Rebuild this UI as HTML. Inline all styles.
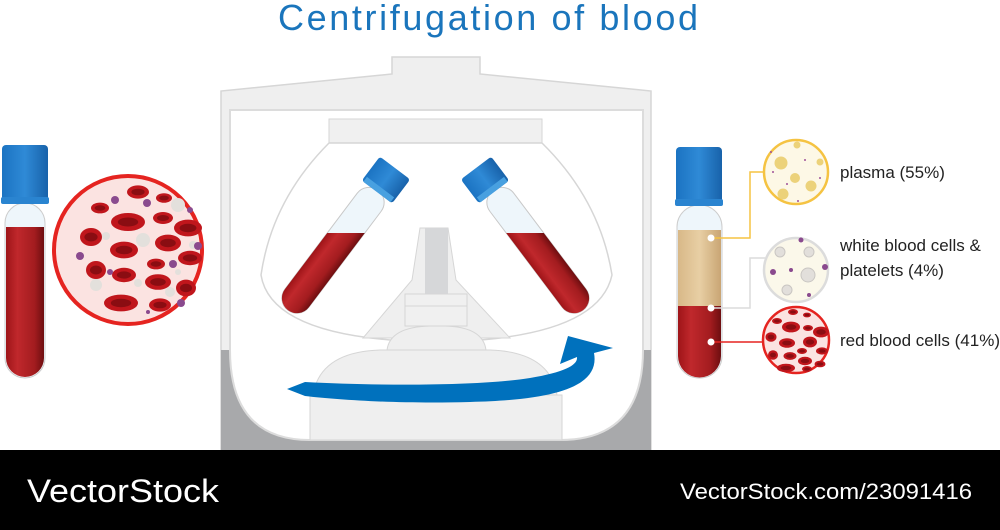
<!DOCTYPE html>
<html><head><meta charset="utf-8"><style>
html,body{margin:0;padding:0;background:#fff;}
svg{display:block;}
</style></head><body>
<svg width="1000" height="530" viewBox="0 0 1000 530" xmlns="http://www.w3.org/2000/svg">
<defs>
<linearGradient id="blood" x1="0" x2="1" y1="0" y2="0">
<stop offset="0" stop-color="#9e1418"/><stop offset="0.3" stop-color="#c0282c"/><stop offset="0.75" stop-color="#a31c1f"/><stop offset="1" stop-color="#6e0e10"/>
</linearGradient>
<linearGradient id="cap" x1="0" x2="1"><stop offset="0" stop-color="#1b73c2"/><stop offset="0.5" stop-color="#2f8ad6"/><stop offset="1" stop-color="#1862aa"/></linearGradient>
<linearGradient id="plas" x1="0" x2="1"><stop offset="0" stop-color="#d8b888"/><stop offset="0.5" stop-color="#e8cfa4"/><stop offset="1" stop-color="#c9a574"/></linearGradient>
<clipPath id="lvl1"><rect x="200" y="233" width="300" height="200"/></clipPath>
<clipPath id="lvl2"><rect x="400" y="233" width="300" height="200"/></clipPath>
<g id="rbc"><ellipse rx="10" ry="6" fill="#c0161c"/><ellipse rx="6" ry="3" fill="#8a0d12"/></g>
</defs>

<!-- title -->
<text x="488" y="30" font-family="Liberation Sans, sans-serif" font-size="36" fill="#1a75bc" text-anchor="middle" textLength="420">Centrifugation of blood</text>

<!-- centrifuge -->
<path d="M392,57 H480 V74 L651,91 V450 H221 V91 L392,74 Z" fill="#efefef" stroke="#d6d6d6" stroke-width="1.5"/>
<rect x="221" y="350" width="430" height="100" fill="#a8a9ab"/>
<path d="M230,110 H643 V350 Q643,440 560,440 H310 Q230,440 230,350 Z" fill="#fff" stroke="#dcdcdc" stroke-width="2"/>
<rect x="329" y="119" width="213" height="24" fill="#f0f0f0" stroke="#d6d6d6"/>
<path d="M329,143 H542 Q600,200 612,275 Q600,330 480,340 Q436,344 390,340 Q270,330 261,275 Q272,200 329,143 Z" fill="#fff" stroke="#d6d6d6" stroke-width="1.5"/>
<path d="M420,228 H448 L456,280 L510,338 H363 L412,280 Z" fill="#efefef" stroke="#d6d6d6"/>
<rect x="425" y="228" width="23" height="67" fill="#d6d7d9"/>
<rect x="405" y="294" width="62" height="12" fill="#f0f0f0" stroke="#d6d6d6"/>
<rect x="405" y="306" width="62" height="20" fill="#f0f0f0" stroke="#d6d6d6"/>
<path d="M387,350 Q390,327 430,326 H445 Q483,327 486,350 Z" fill="#efefef" stroke="#d6d6d6"/>
<path d="M313,395 Q320,352 380,350 H490 Q550,352 557,395 Z" fill="#efefef" stroke="#d6d6d6"/>
<rect x="310" y="395" width="252" height="45" fill="#efefef" stroke="#d6d6d6"/>
<path d="M287,389 L305,382 C380,386 480,386 530,378 C565,372 578,365 577,357 L560,364 L568,336 L613,348 L594,353 C600,385 560,400 470,402 C400,404 340,400 305,396 Z" fill="#0071bd"/>

<!-- centrifuge tubes -->
<g transform="rotate(37 395 168)"><rect x="380" y="196" width="30" height="150" rx="15" fill="#eef6fb" stroke="#c8c8c8"/></g>
<g clip-path="url(#lvl1)"><g transform="rotate(37 395 168)"><rect x="380" y="196" width="30" height="150" rx="15" fill="url(#blood)"/></g></g>
<g transform="rotate(37 395 168)">
<rect x="376" y="168" width="38" height="30" rx="3" fill="url(#cap)"/>
<rect x="378" y="192" width="34" height="6" fill="#48a0e0"/>
</g>
<g transform="rotate(-37 476 168)"><rect x="461" y="196" width="30" height="150" rx="15" fill="#eef6fb" stroke="#c8c8c8"/></g>
<g clip-path="url(#lvl2)"><g transform="rotate(-37 476 168)"><rect x="461" y="196" width="30" height="150" rx="15" fill="url(#blood)"/></g></g>
<g transform="rotate(-37 476 168)">
<rect x="457" y="168" width="38" height="30" rx="3" fill="url(#cap)"/>
<rect x="459" y="192" width="34" height="6" fill="#48a0e0"/>
</g>

<!-- left tube -->
<rect x="5" y="203" width="40" height="175" rx="20" fill="#eef6fb" stroke="#ccc"/>
<path d="M6,227 H44 V358 A19,19 0 0 1 6,358 Z" fill="url(#blood)"/>
<rect x="2" y="145" width="46" height="58" rx="4" fill="url(#cap)"/>
<rect x="1" y="197" width="48" height="7" rx="2" fill="#2a84d0"/>

<!-- left circle -->
<g transform="translate(18,0)">
<circle cx="110" cy="250" r="74" fill="#fbe3e1" stroke="#e52420" stroke-width="4"/>
<use href="#rbc" transform="translate(120,192) scale(1.1)"/>
<use href="#rbc" transform="translate(146,198) scale(0.8)"/>
<use href="#rbc" transform="translate(82,208) scale(0.9)"/>
<use href="#rbc" transform="translate(110,222) scale(1.7 1.5)"/>
<use href="#rbc" transform="translate(145,218) scale(1.0)"/>
<use href="#rbc" transform="translate(170,228) scale(1.4)"/>
<use href="#rbc" transform="translate(73,237) scale(1.1 1.5)"/>
<use href="#rbc" transform="translate(106,250) scale(1.4)"/>
<use href="#rbc" transform="translate(150,243) scale(1.3 1.4)"/>
<use href="#rbc" transform="translate(138,264) scale(0.9)"/>
<use href="#rbc" transform="translate(172,258) scale(1.2)"/>
<use href="#rbc" transform="translate(78,270) scale(1.0 1.5)"/>
<use href="#rbc" transform="translate(106,275) scale(1.2)"/>
<use href="#rbc" transform="translate(140,282) scale(1.3)"/>
<use href="#rbc" transform="translate(168,288) scale(1.0 1.4)"/>
<use href="#rbc" transform="translate(103,303) scale(1.7 1.4)"/>
<use href="#rbc" transform="translate(142,305) scale(1.1)"/>
<circle cx="160" cy="205" r="7" fill="#e3e0dc"/><circle cx="125" cy="240" r="7" fill="#e3e0dc"/>
<circle cx="88" cy="236" r="4" fill="#e3e0dc"/><circle cx="78" cy="285" r="6" fill="#e3e0dc"/>
<circle cx="120" cy="283" r="4" fill="#e3e0dc"/><circle cx="152" cy="292" r="5" fill="#e3e0dc"/>
<circle cx="175" cy="245" r="4" fill="#e3e0dc"/><circle cx="160" cy="272" r="3" fill="#e3e0dc"/>
<g fill="#8a4a8e"><circle cx="97" cy="200" r="4"/><circle cx="129" cy="203" r="4"/><circle cx="62" cy="256" r="4"/><circle cx="92" cy="272" r="3"/><circle cx="155" cy="264" r="4"/><circle cx="180" cy="246" r="4"/><circle cx="163" cy="303" r="4"/><circle cx="130" cy="312" r="2"/><circle cx="172" cy="210" r="3"/></g>
</g>

<!-- right tube -->
<rect x="677" y="205" width="45" height="173" rx="22" fill="#eef6fb" stroke="#ccc"/>
<rect x="678" y="230" width="43" height="76" fill="url(#plas)"/>
<path d="M678,306 H721 V356 A21.5,21.5 0 0 1 678,356 Z" fill="url(#blood)"/>
<rect x="676" y="147" width="46" height="58" rx="4" fill="url(#cap)"/>
<rect x="675" y="199" width="48" height="7" rx="2" fill="#2a84d0"/>

<!-- connectors -->
<polyline points="711,238 750,238 750,172 765,172" fill="none" stroke="#f5c342" stroke-width="1.5"/>
<polyline points="711,308 750,308 750,258 765,258" fill="none" stroke="#dcdcdc" stroke-width="1.5"/>
<line x1="711" y1="342" x2="765" y2="342" stroke="#e52420" stroke-width="1.5"/>
<circle cx="711" cy="238" r="3.5" fill="#fff"/><circle cx="711" cy="308" r="3.5" fill="#fff"/><circle cx="711" cy="342" r="3.5" fill="#fff"/>

<!-- plasma circle -->
<circle cx="796" cy="172" r="32" fill="#fdf8e6" stroke="#f5c342" stroke-width="2.5"/>
<g fill="#ecd27a"><circle cx="781" cy="163" r="6.5"/><circle cx="795" cy="178" r="5"/><circle cx="811" cy="186" r="5.5"/><circle cx="783" cy="194" r="5.5"/><circle cx="797" cy="145" r="3.5"/><circle cx="820" cy="162" r="3.5"/></g>
<g fill="#a0529a"><circle cx="773" cy="172" r="1"/><circle cx="805" cy="160" r="1"/><circle cx="787" cy="184" r="1"/><circle cx="820" cy="178" r="1"/><circle cx="798" cy="201" r="1"/><circle cx="771" cy="152" r="1"/></g>

<!-- wbc circle -->
<circle cx="796" cy="270" r="32" fill="#fbf8ea" stroke="#dcdcdc" stroke-width="2.5"/>
<g fill="#e2dfdb" stroke="#c9c6c2"><circle cx="780" cy="252" r="5"/><circle cx="809" cy="252" r="5"/><circle cx="808" cy="275" r="7"/><circle cx="787" cy="290" r="5"/></g>
<g fill="#8a4a8e"><circle cx="801" cy="240" r="2.5"/><circle cx="773" cy="272" r="3"/><circle cx="791" cy="270" r="2"/><circle cx="825" cy="267" r="3"/><circle cx="809" cy="295" r="2"/></g>

<!-- rbc circle -->
<circle cx="796" cy="340" r="33" fill="#fbe3e1" stroke="#e52420" stroke-width="2.5"/>
<g>
<use href="#rbc" transform="translate(793,312) scale(0.5)"/>
<use href="#rbc" transform="translate(807,315) scale(0.4)"/>
<use href="#rbc" transform="translate(777,321) scale(0.5)"/>
<use href="#rbc" transform="translate(791,327) scale(0.9)"/>
<use href="#rbc" transform="translate(808,328) scale(0.5)"/>
<use href="#rbc" transform="translate(821,332) scale(0.8 0.9)"/>
<use href="#rbc" transform="translate(771,337) scale(0.55 0.8)"/>
<use href="#rbc" transform="translate(787,343) scale(0.8)"/>
<use href="#rbc" transform="translate(810,342) scale(0.7 0.9)"/>
<use href="#rbc" transform="translate(822,351) scale(0.6)"/>
<use href="#rbc" transform="translate(802,351) scale(0.5)"/>
<use href="#rbc" transform="translate(773,355) scale(0.5 0.8)"/>
<use href="#rbc" transform="translate(790,356) scale(0.65)"/>
<use href="#rbc" transform="translate(805,361) scale(0.7)"/>
<use href="#rbc" transform="translate(786,368) scale(0.9 0.7)"/>
<use href="#rbc" transform="translate(807,369) scale(0.5)"/>
<use href="#rbc" transform="translate(820,364) scale(0.55)"/>
</g>

<g font-family="Liberation Sans, sans-serif" font-size="17" fill="#222">
<text x="840" y="178">plasma (55%)</text>
<text x="840" y="251">white blood cells &amp;</text>
<text x="840" y="276">platelets (4%)</text>
<text x="840" y="346" textLength="160">red blood cells (41%)</text>
</g>

<!-- footer -->
<rect x="0" y="450" width="1000" height="80" fill="#000"/>
<text x="27" y="502" font-family="Liberation Sans, sans-serif" font-size="32" fill="#fff" textLength="192" lengthAdjust="spacingAndGlyphs">VectorStock</text>
<text x="680" y="499" font-family="Liberation Sans, sans-serif" font-size="22" fill="#fff" textLength="292" lengthAdjust="spacingAndGlyphs">VectorStock.com/23091416</text>
</svg>
</body></html>
